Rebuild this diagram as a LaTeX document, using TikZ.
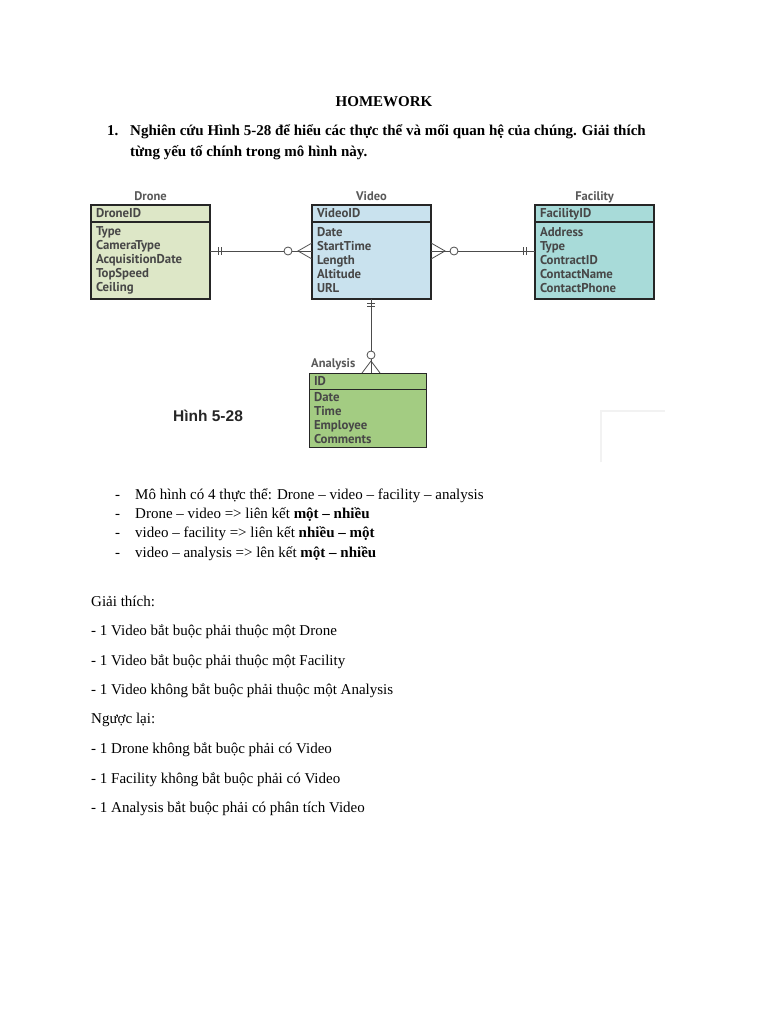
\documentclass[tikz,border=0pt]{standalone}
\usepackage{fontspec}
\setmainfont{Liberation Serif}
\newfontfamily\diagfont{PT Sans}
\newfontfamily\figfont{Liberation Sans}
\usetikzlibrary{positioning,calc}

\definecolor{dronefill}{HTML}{DDE7C7}
\definecolor{videofill}{HTML}{C9E2EE}
\definecolor{facilfill}{HTML}{A8DBD9}
\definecolor{analyfill}{HTML}{A3CC82}

\begin{document}
\begin{tikzpicture}[x=1pt, y=-1pt,
  txt/.style={anchor=base west, inner sep=0pt, font=\fontsize{15}{18}\selectfont},
  ttl/.style={inner sep=0pt, text height=9pt, text depth=0pt, font=\diagfont\bfseries\fontsize{12.5}{14}\selectfont, text=black!65},
  ebox/.style={draw=black!85, line width=2.5pt, outer sep=0pt,
    minimum width=119pt, inner xsep=5pt, inner ysep=0pt,
    text width=109pt, align=left, font=\diagfont\bfseries\fontsize{12.8}{14}\selectfont, text=black!72},
  head/.style={ebox, anchor=north west, minimum height=17pt, text height=10pt, text depth=2pt},
  body/.style={ebox, anchor=north, minimum height=77pt},
  link/.style={draw=black!70, line width=0.8pt},
]

\useasboundingbox (0,0) rectangle (768,1024);
\fill[white] (0,0) rectangle (768,1024);

% === Heading ===
\node[txt, anchor=base, font=\fontsize{15}{18}\selectfont\bfseries] (hw) at (384,107) {HOMEWORK};
\node[txt, font=\fontsize{15}{18}\selectfont\bfseries] (q1) at (107,136) {1.};
\node[txt, font=\fontsize{15}{18}\selectfont\bfseries] (q1a) at (130,136) {Nghiên cứu Hình 5-28 để hiểu các thực thể và mối quan hệ của chúng. Giải thích};
\node[txt, font=\fontsize{15}{18}\selectfont\bfseries] (q1b) at (130,157) {từng yếu tố chính trong mô hình này.};

% === Entities ===
\node[head, fill=dronefill] (drone) at (91,205) {DroneID};
\node[body, fill=dronefill, below=0pt of drone] (droneb) {Type\\CameraType\\AcquisitionDate\\TopSpeed\\Ceiling};
\node[ttl, above=4pt of drone] {Drone};

\node[head, fill=videofill] (video) at (312,205) {VideoID};
\node[body, fill=videofill, below=0pt of video] (videob) {Date\\StartTime\\Length\\Altitude\\URL};
\node[ttl, above=4pt of video] {Video};

\node[head, fill=facilfill] (facil) at (535,205) {FacilityID};
\node[body, fill=facilfill, below=0pt of facil] (facilb) {Address\\Type\\ContractID\\ContactName\\ContactPhone};
\node[ttl, above=4pt of facil] {Facility};

\node[head, fill=analyfill, line width=1pt, minimum width=117pt, text width=107pt, minimum height=16pt] (analy) at (309,373) {ID};
\node[body, fill=analyfill, line width=1pt, minimum width=117pt, text width=107pt, minimum height=58pt, below=0pt of analy] (analyb) {Date\\Time\\Employee\\Comments};
\node[ttl, anchor=south west] at ($(analy.north west)+(2,-5)$) {Analysis};

\node[inner sep=0pt, font=\figfont\bfseries\fontsize{15.5}{18}\selectfont, text=black!85] (fig) at (208,416) {Hình 5-28};
\draw[black!5, line width=1.5pt] (601,462) -- (601,411) -- (665,411);

% === Drone -- Video ===
\coordinate (dv) at (0,251);
\coordinate (d1) at (droneb.east |- dv);
\coordinate (v1) at (videob.west |- dv);
\draw[link] (d1) -- (v1);
\draw[link] ($(d1)+(8,-4)$) -- ++(0,8) ($(d1)+(11,-4)$) -- ++(0,8);
\draw[link] ($(v1)+(0,-8)$) -- ($(v1)+(-14,0)$) -- ($(v1)+(0,8)$);
\draw[link, fill=white] ($(v1)+(-24,0)$) circle (4pt);

% === Video -- Facility ===
\coordinate (v2) at (videob.east |- dv);
\coordinate (f1) at (facilb.west |- dv);
\draw[link] (v2) -- (f1);
\draw[link] ($(f1)+(-12,-4)$) -- ++(0,8) ($(f1)+(-9,-4)$) -- ++(0,8);
\draw[link] ($(v2)+(0,-8)$) -- ($(v2)+(14,0)$) -- ($(v2)+(0,8)$);
\draw[link, fill=white] ($(v2)+(23,0)$) circle (4pt);

% === Video -- Analysis ===
\coordinate (v3) at (videob.south -| 371,0);
\coordinate (a1) at (analy.north -| 371,0);
\draw[link] (v3) -- (a1);
\draw[link] ($(v3)+(-4,4)$) -- ++(8,0) ($(v3)+(-4,7)$) -- ++(8,0);
\draw[link] ($(a1)+(-9,0)$) -- ($(a1)+(0,-12)$) -- ($(a1)+(9,0)$);
\draw[link, fill=white] ($(a1)+(0,-18)$) circle (4pt);

% === Answer ===
\node[txt] (b1d) at (115,499) {-};
\node[txt] (b1) at (135,499) {Mô hình có 4 thực thể: Drone – video – facility – analysis};
\node[txt] (b2d) at (115,518) {-};
\node[txt] (b2) at (135,518) {Drone – video => liên kết \textbf{một – nhiều}};
\node[txt] (b3d) at (115,537) {-};
\node[txt] (b3) at (135,537) {video – facility => liên kết \textbf{nhiều – một}};
\node[txt] (b4d) at (115,557) {-};
\node[txt] (b4) at (135,557) {video – analysis => lên kết \textbf{một – nhiều}};

\node[txt] (gt) at (91,606) {Giải thích:};
\node[txt] (g1) at (91,635) {- 1 Video bắt buộc phải thuộc một Drone};
\node[txt] (g2) at (91,665) {- 1 Video bắt buộc phải thuộc một Facility};
\node[txt] (g3) at (91,694) {- 1 Video không bắt buộc phải thuộc một Analysis};
\node[txt] (nl) at (91,723) {Ngược lại:};
\node[txt] (n1) at (91,753) {- 1 Drone không bắt buộc phải có Video};
\node[txt] (n2) at (91,783) {- 1 Facility không bắt buộc phải có Video};
\node[txt] (n3) at (91,812) {- 1 Analysis bắt buộc phải có phân tích Video};

\end{tikzpicture}
\end{document}
